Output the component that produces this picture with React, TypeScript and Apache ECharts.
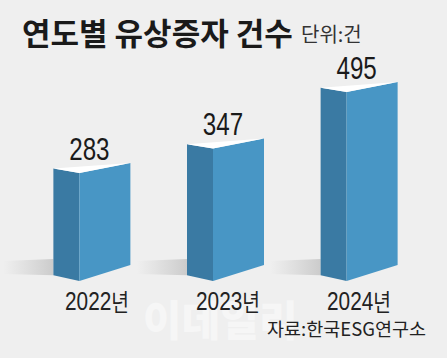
import React, { useEffect, useRef } from "react";
import * as echarts from "echarts";

const categories = ["2022년", "2023년", "2024년"];
const values = [283, 347, 495];
const titleText = "연도별 유상증자 건수";
const unitText = "단위:건";
const sourceText = "자료:한국ESG연구소";
const watermarkText = "이데일리";

const LAT = "'Liberation Sans', Arial, sans-serif";
const KR = "'Noto Sans CJK KR', 'Noto Sans', sans-serif";

export default function App() {
  const ref = useRef<HTMLDivElement>(null);
  useEffect(() => {
    document.body.style.margin = "0";
    const chart = echarts.init(ref.current!, null, { renderer: "svg" });
    const renderItem = (params: any, api: any) => {
      const idx = api.value(0);
      const v = api.value(1);
      const top = api.coord([idx, v]);
      const bot = api.coord([idx, 0]);
      const cx = top[0];
      const fx = cx - 15 + (cx - 228) * 0.02;
      const tY = top[1];
      const bY = bot[1];
      const lw = 26;
      const rw = 51;
      const lt = [fx - lw, tY - 4.4];
      const lb = [fx - lw, bY - 5.8];
      const rt = [fx + rw, tY - 10];
      const rb = [fx + rw, bY - 16];
      const cat = categories[idx];
      const m = cat.match(/^(\d+)(.*)$/);
      const labelText = m ? "{n|" + m[1] + "}{k|" + m[2] + "}" : cat;
      return {
        type: "group",
        children: [
          {
            type: "polygon",
            shape: { points: [[fx - lw - 50, bY - 20], [fx - lw, bY - 22], lb, [fx - lw - 50, bY - 7]] },
            style: {
              fill: new echarts.graphic.LinearGradient(0, 0, 1, 0, [
                { offset: 0, color: "rgba(160,160,160,0)" },
                { offset: 1, color: "rgba(150,150,150,0.4)" },
              ]),
            },
          },
          {
            type: "polygon",
            shape: { points: [lt, [fx, tY], [fx, bY], lb] },
            style: { fill: "#3a7aa3" },
          },
          {
            type: "polygon",
            shape: { points: [[fx, tY], rt, rb, [fx, bY]] },
            style: { fill: "#4896c5" },
          },
          {
            type: "polygon",
            shape: { points: [lt, [fx, tY], rt] },
            style: { fill: "#ffffff" },
          },
          {
            type: "text",
            x: fx + 10,
            y: tY - 24,
            scaleX: 0.78,
            style: {
              text: String(v),
              x: 0,
              y: 0,
              align: "center",
              verticalAlign: "middle",
              font: "31px " + LAT,
              fill: "#1a1a1a",
            },
          },
          {
            type: "text",
            x: cx,
            y: bY + 20,
            scaleX: 0.8,
            style: {
              text: labelText,
              x: 0,
              y: 0,
              align: "center",
              verticalAlign: "middle",
              fill: "#222",
              rich: {
                n: { font: "26px " + LAT, fill: "#222", lineHeight: 28 },
                k: { font: "24px " + KR, fill: "#222", lineHeight: 28 },
              },
            },
          },
        ],
      };
    };
    chart.setOption({
      animation: false,
      backgroundColor: "#efefef",
      grid: { left: 31.5, right: 22.5, top: 52, bottom: 77 },
      xAxis: {
        type: "category",
        data: categories,
        axisLine: { show: false },
        axisTick: { show: false },
        axisLabel: { show: false },
      },
      yAxis: {
        type: "value",
        min: 0,
        max: 600,
        show: false,
        splitLine: { show: false },
      },
      graphic: [
        {
          type: "text",
          x: 143,
          y: 296,
          z: 0,
          style: { text: watermarkText, font: "900 42px " + KR, fill: "#f6f6f6", verticalAlign: "top" },
        },
        {
          type: "text",
          x: 22,
          y: 16,
          style: { text: titleText, font: "bold 31px " + KR, fill: "#1a1a1a", verticalAlign: "top" },
        },
        {
          type: "text",
          x: 301,
          y: 23,
          style: { text: unitText, font: "20px " + KR, fill: "#333", verticalAlign: "top" },
        },
        {
          type: "text",
          x: 426,
          y: 319,
          style: { text: sourceText, font: "18.5px " + KR, fill: "#222", align: "right", verticalAlign: "top" },
        },
      ],
      series: [
        {
          type: "custom",
          renderItem,
          data: values.map((v, i) => [i, v]),
          z: 2,
        },
      ],
    });
    return () => chart.dispose();
  }, []);
  return <div ref={ref} style={{ position: "fixed", left: 0, top: 0, width: 447, height: 358 }} />;
}
